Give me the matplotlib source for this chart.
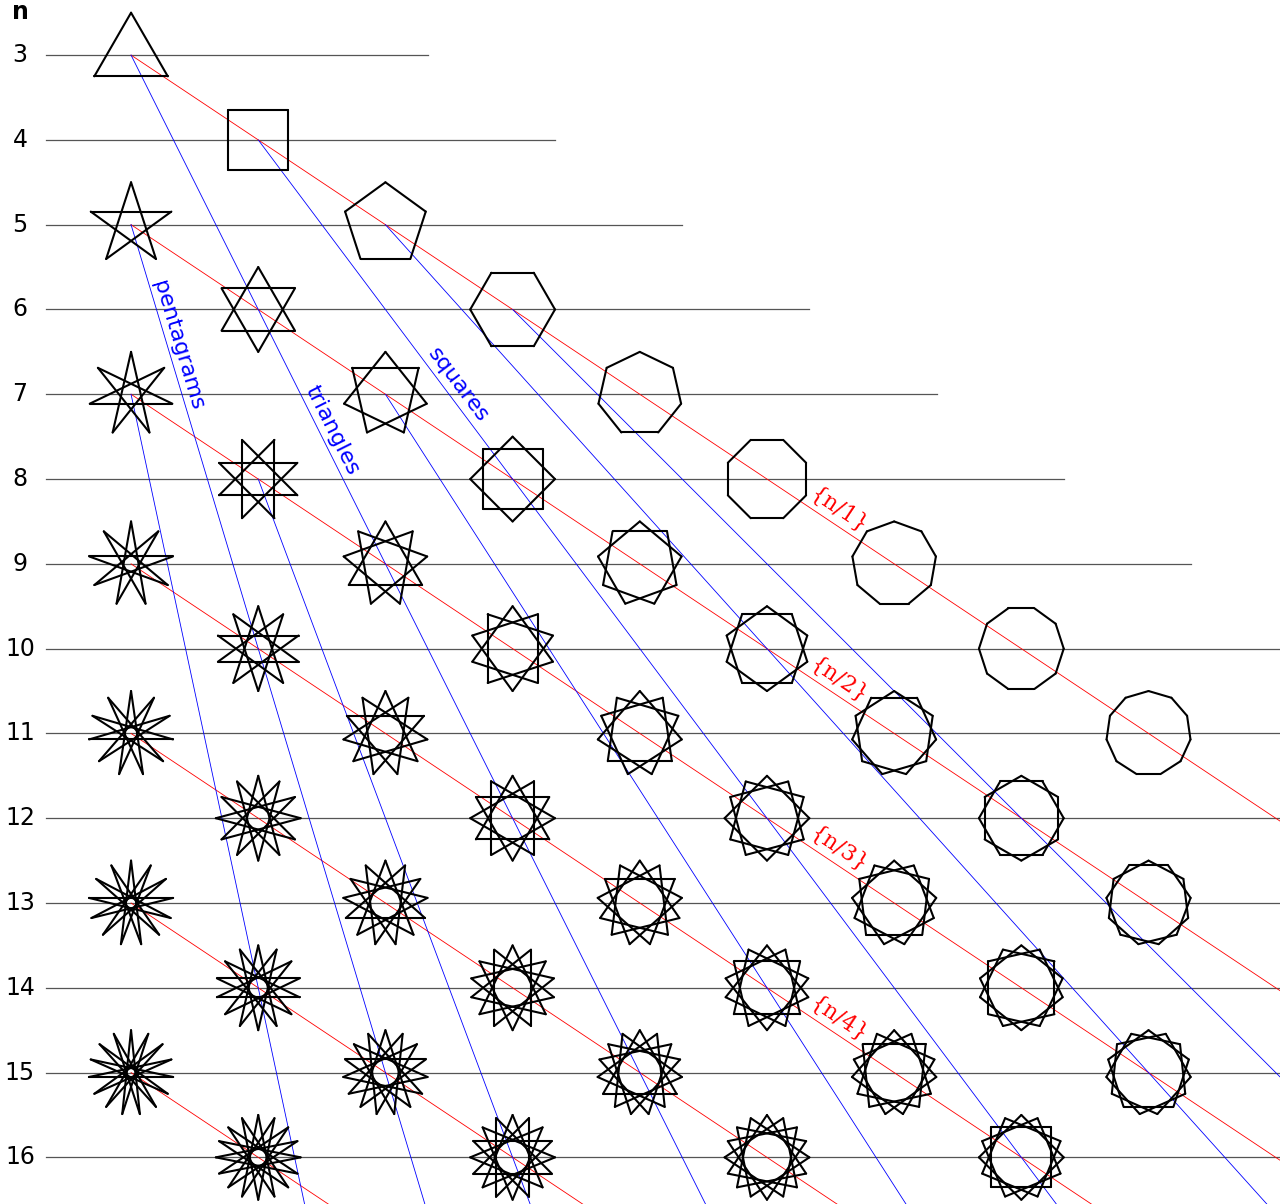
import numpy as np
import matplotlib.pyplot as plt

# --- data ---
n_values = list(range(3, 17))
max_col = 8
blue_primitives = [(3, 1), (4, 1), (5, 1), (5, 2), (6, 1), (7, 2), (7, 3), (8, 3)]
blue_labels = {(5, 2): 'pentagrams', (3, 1): 'triangles', (4, 1): 'squares'}
blue_label_pos = {(5, 2): (0.55, 6.42), (3, 1): (2.37, 7.42), (4, 1): (3.86, 6.89)}
red_labels = ['{n/1}', '{n/2}', '{n/3}', '{n/4}']
flat_top_extra = [(8, 3)]  # drawn with an edge on top, like the even polygons

COL_W = 1.5   # horizontal spacing between columns (row spacing = 1)
R = 0.5       # circumradius
ORIGIN = (-COL_W, 0.0)  # all {kn/km} rays meet here


def position(n, m):
    return COL_W * (n - 1 - 2 * m), n


fig = plt.figure(figsize=(12.8, 12.04), dpi=100)
ax = fig.add_axes([0, 0, 1, 1])
ax.set_xlim(-1.545, 13.55)
ax.set_ylim(16.55, 2.35)
ax.set_aspect('equal')
ax.axis('off')

# row guide lines and labels
for n in n_values:
    ax.plot([-1, COL_W * (n - 3) + 3.5], [n, n], color='#555555', lw=0.9, zorder=1)
    ax.text(-1.31, n, str(n), ha='center', va='center', fontsize=17)
ax.text(-1.31, 2.49, 'n', ha='center', va='center', fontsize=17, fontweight='bold')

# star polygons {n/m}
for n in n_values:
    for m in range(1, (n - 1) // 2 + 1):
        if n - 1 - 2 * m > max_col:
            continue
        cx, cy = position(n, m)
        flat = (m == 1 and n % 2 == 0) or (n, m) in flat_top_extra
        off = np.pi / n if flat else 0.0
        ang = np.pi / 2 + off + 2 * np.pi * np.arange(n) / n
        px = cx + R * np.cos(ang)
        py = cy - R * np.sin(ang)
        for i in range(n):
            j = (i + m) % n
            ax.plot([px[i], px[j]], [py[i], py[j]], color='black', lw=1.5,
                    solid_capstyle='round', zorder=3)

# red lines: constant m
far = 40
for m in range(1, 8):
    x0, y0 = position(2 * m + 1, m)
    ax.plot([x0, x0 + COL_W * far], [y0, y0 + far], color='red', lw=0.6, zorder=2)

for k, lab in enumerate(red_labels):
    ax.text(8.34, 8.37 + 2 * k, lab, color='red', family='DejaVu Serif', fontsize=16,
            ha='center', va='center', rotation=np.degrees(np.arctan2(-1, COL_W)),
            rotation_mode='anchor', zorder=4)

# blue lines: same shape, scaled
for n, m in blue_primitives:
    x0, y0 = position(n, m)
    dx, dy = x0 - ORIGIN[0], y0 - ORIGIN[1]
    ax.plot([x0, x0 + dx * 5], [y0, y0 + dy * 5], color='blue', lw=0.6, zorder=2)
    if (n, m) in blue_labels:
        lx, ly = blue_label_pos[(n, m)]
        ax.text(lx, ly, blue_labels[(n, m)], color='blue', fontsize=16,
                ha='center', va='center', rotation=np.degrees(np.arctan2(-dy, dx)),
                rotation_mode='anchor', zorder=4)

fig.savefig('out.png', dpi=100)
